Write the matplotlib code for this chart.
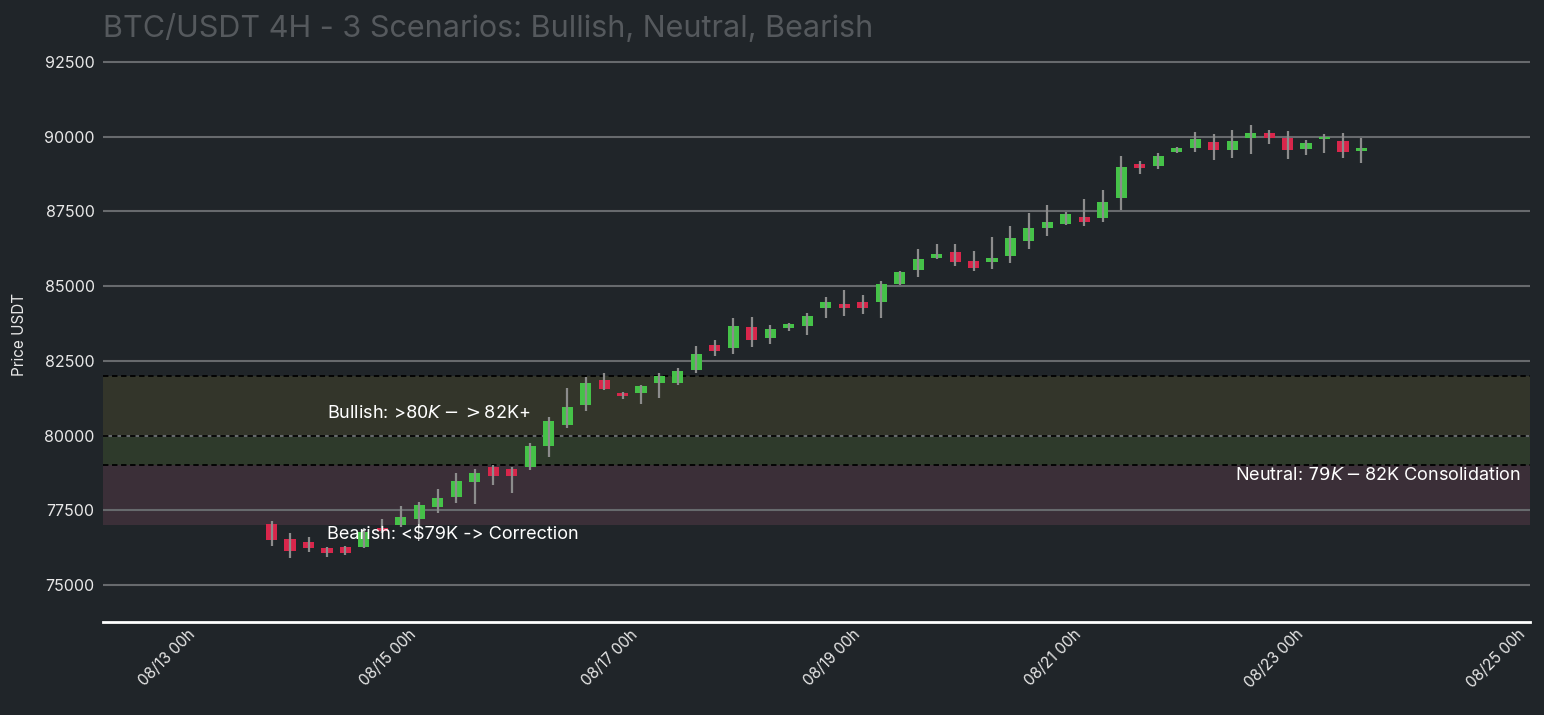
import matplotlib
matplotlib.use('Agg')
import matplotlib.pyplot as plt
import matplotlib.dates as mdates
import matplotlib.transforms as mtransforms
import pandas as pd
import numpy as np

plt.rcParams['font.family'] = ['Inter', 'DejaVu Sans']

# 4H candles, 08/13 16h -> 08/23 12h
times = pd.date_range('2025-08-13 16:00', periods=60, freq='4h')

opens = [77040, 76540, 76440, 76240, 76260, 76280, 76900, 77000, 77200, 77620,
         77940, 78460, 78960, 78890, 78960, 79650, 80350, 81020, 81860, 81430,
         81430, 81750, 81770, 82190, 83030, 82940, 83620, 83260, 83590, 83670,
         84280, 84400, 84480, 84480, 85070, 85540, 85950, 86140, 85840, 85810,
         85990, 86520, 86960, 87080, 87320, 87290, 87960, 89080, 89030, 89470,
         89630, 89810, 89560, 89970, 90130, 89950, 89590, 89920, 89860, 89530]
highs = [77150, 76730, 76600, 76280, 76300, 76900, 77200, 77640, 77790, 78200,
         78740, 78870, 79020, 78960, 79740, 80610, 81580, 81970, 82100, 81450,
         81680, 82080, 82250, 83000, 83180, 83920, 83960, 83700, 83750, 84110,
         84650, 84870, 84700, 85170, 85510, 86230, 86410, 86410, 86180, 86630,
         87010, 87460, 87720, 87470, 87920, 88220, 89360, 89190, 89450, 89650,
         90150, 90090, 90230, 90390, 90230, 90190, 89890, 90080, 90110, 89950]
lows = [76300, 75890, 76110, 75950, 76010, 76230, 76750, 76930, 76900, 77420,
        77730, 77710, 78350, 78070, 78850, 79290, 80260, 80830, 81520, 81210,
        81050, 81250, 81700, 82100, 82660, 82720, 82950, 83050, 83500, 83370,
        83920, 84010, 84060, 83920, 85040, 85320, 85900, 85680, 85520, 85580,
        85770, 86250, 86660, 87050, 87020, 87160, 87530, 88740, 88910, 89460,
        89470, 89220, 89300, 89410, 89750, 89240, 89370, 89450, 89280, 89110]
closes = [76510, 76140, 76240, 76080, 76060, 76780, 76800, 77270, 77680, 77910,
          78480, 78740, 78650, 78650, 79650, 80490, 80950, 81770, 81550, 81330,
          81660, 81990, 82160, 82730, 82830, 83670, 83200, 83560, 83730, 84000,
          84470, 84280, 84280, 85070, 85480, 85900, 86080, 85810, 85620, 85940,
          86620, 86960, 87150, 87410, 87150, 87830, 89000, 88960, 89360, 89610,
          89910, 89560, 89860, 90110, 89970, 89560, 89800, 90000, 89500, 89610]

bear_zone = (77000, 79000)
neutral_zone = (79000, 82000)
bull_zone = (80000, 82000)
levels = [82000, 80000, 79000]

BG = '#202529'
GREEN = '#45c248'
RED = '#d8264b'
WICK = '#8c8c8c'

fig = plt.figure(figsize=(15.44, 7.15), dpi=100, facecolor=BG)
ax = fig.add_axes([103 / 1544, 1 - 622 / 715, (1530 - 103) / 1544, (622 - 47) / 715])
ax.set_facecolor(BG)

# scenario zones
ax.axhspan(*bear_zone, color='#3b2f38', lw=0, zorder=0)
ax.axhspan(*neutral_zone, color='#2e3a2b', lw=0, zorder=0)
ax.axhspan(*bull_zone, color='#33352a', lw=0, zorder=0)
for lv in levels:
    ax.axhline(lv, color='black', lw=1.3, linestyle=(0, (3, 2)), zorder=1)

# candles
x = mdates.date2num(times.to_pydatetime())
o = np.array(opens)
c = np.array(closes)
up = c >= o
cols = np.where(up, GREEN, RED)
body_w = 0.6 / 6
ax.bar(x, np.maximum(np.abs(c - o), 30), bottom=np.minimum(o, c), width=body_w,
       color=cols, zorder=3)
ax.vlines(x, lows, highs, color=WICK, lw=1.6, zorder=4)

# labels
ax.text(x[3], 80720, 'Bullish: >$80K - >$82K+', color='white', fontsize=13,
        ha='left', va='center', zorder=5)
ax.text(x[3], 76700, 'Bearish: <$79K -> Correction', color='white', fontsize=13,
        ha='left', va='center', zorder=5)
trans = mtransforms.blended_transform_factory(ax.transAxes, ax.transData)
ax.text(0.9937, 78650, 'Neutral: $79K - $82K Consolidation', color='white',
        fontsize=13, ha='right', va='center', transform=trans, zorder=5)

# axes styling
ax.set_ylim(73760, 93000)
ax.set_xlim(mdates.date2num(pd.Timestamp('2025-08-12 03:30')),
            mdates.date2num(pd.Timestamp('2025-08-25 00:30')))
ax.set_yticks([75000, 77500, 80000, 82500, 85000, 87500, 90000, 92500])
ax.set_xticks(mdates.date2num(pd.date_range('2025-08-13', '2025-08-25', freq='2D').to_pydatetime()))
ax.xaxis.set_major_formatter(mdates.DateFormatter('%m/%d %Hh'))
ax.grid(axis='y', color='#676a6d', lw=1.5, zorder=0.5)
ax.set_axisbelow(True)
ax.tick_params(axis='both', length=0, colors='#e8e8e8', labelsize=11)
ax.tick_params(axis='y', pad=6, labelsize=11.5)
plt.setp(ax.get_xticklabels(), rotation=45, ha='right')
for side in ['top', 'right', 'left']:
    ax.spines[side].set_visible(False)
ax.spines['bottom'].set_color('white')
ax.spines['bottom'].set_linewidth(2)
ax.set_ylabel('Price USDT', color='#e8e8e8', fontsize=11, labelpad=12)

fig.text(103 / 1544, 1 - 28 / 715, 'BTC/USDT 4H - 3 Scenarios: Bullish, Neutral, Bearish',
         color='#55595d', fontsize=22, ha='left', va='center')

fig.savefig('out.png', dpi=100, facecolor=BG)
